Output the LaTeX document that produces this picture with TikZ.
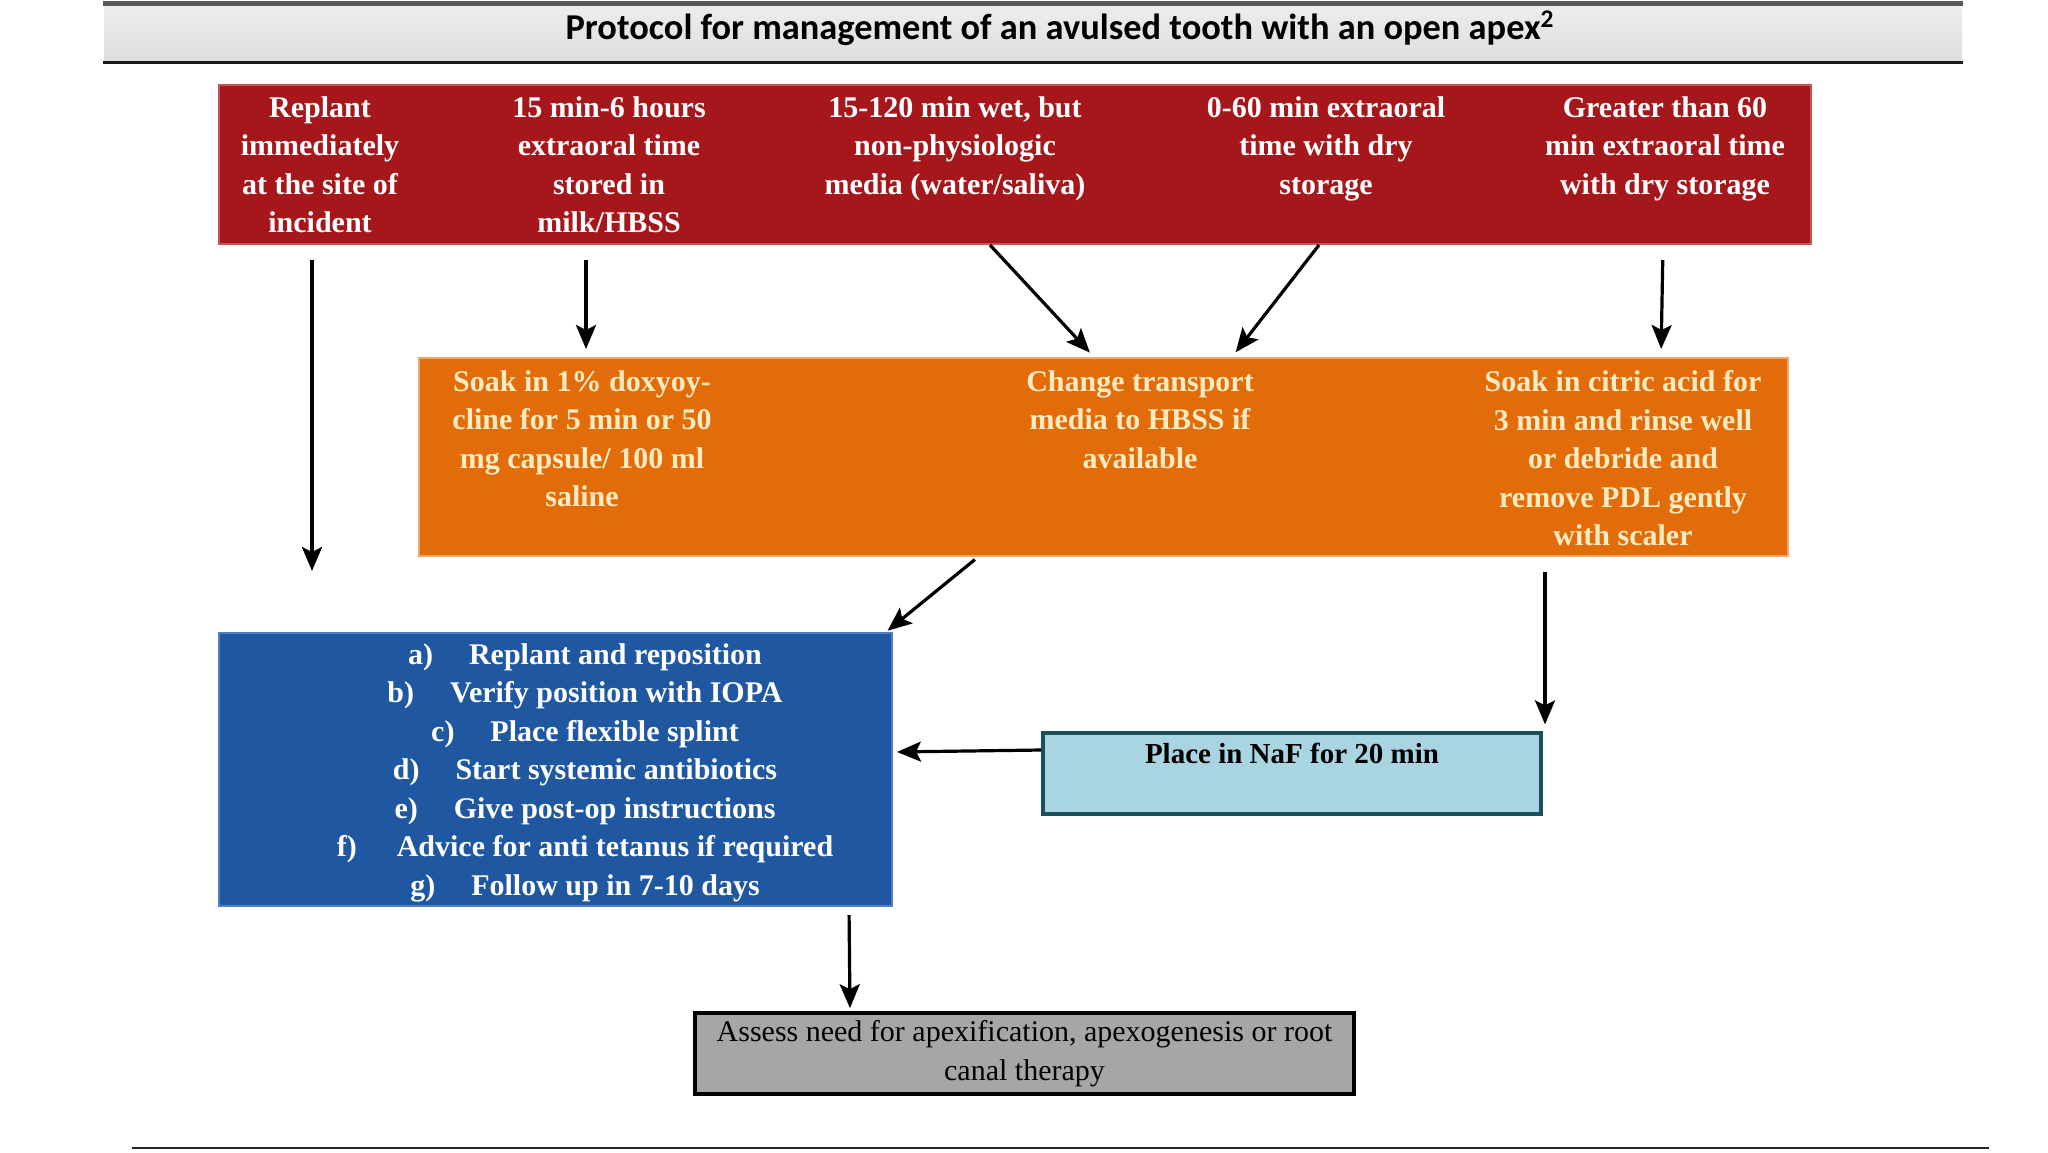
\documentclass[tikz,border=0pt]{standalone}
\usepackage{fontspec}
\setmainfont{Liberation Serif}
\newfontfamily\titlefont{Carlito}
\usetikzlibrary{arrows.meta, positioning}

\definecolor{incred}{HTML}{A6171C}
\definecolor{incredline}{HTML}{C9555A}
\definecolor{soakorange}{HTML}{E36C0A}
\definecolor{soakline}{HTML}{F0A766}
\definecolor{cream}{HTML}{FDEBC2}
\definecolor{replblue}{HTML}{1F58A0}
\definecolor{replline}{HTML}{4F80C4}
\definecolor{naffill}{HTML}{A9D4E1}
\definecolor{nafline}{HTML}{1B4F5C}
\definecolor{assessgray}{HTML}{A6A6A6}

\begin{document}
\begin{tikzpicture}[x=1pt, y=-1pt,
    box/.style={draw, line width=1pt, inner sep=0pt},
    txt/.style={align=center, inner sep=0pt, anchor=north,
                font=\bfseries\fontsize{15}{19.25}\selectfont},
    arr/.style={-{Stealth[length=12pt, width=10pt, inset=2.5pt]}, line width=1.6pt}
]
\useasboundingbox[fill=white] (0,0) rectangle (1024,576);

% Title bar
\node[box, draw=none, top color=gray!14, bottom color=gray!26,
      minimum width=929pt, minimum height=28.5pt] (bar) at (516.5,16.25) {};
\draw[line width=2.5pt, black!65] (bar.north west) -- (bar.north east);
\draw[line width=1.5pt, black!90] (bar.south west) -- (bar.south east);
\node[inner sep=0pt, font=\titlefont\bfseries\fontsize{18.2}{20}\selectfont] (title) at (530,14)
    {Protocol for management of an avulsed tooth with an open apex\textsuperscript{2}};

% Boxes
\node[box, fill=incred, draw=incredline, minimum width=796pt, minimum height=79.5pt] (red) at (507.5,82.25) {};
\node[box, fill=soakorange, draw=soakline, minimum width=684.5pt, minimum height=99pt] (orange) at (551.75,228.5) {};
\node[box, fill=replblue, draw=replline, minimum width=336.5pt, minimum height=136.5pt] (blue) at (277.75,384.75) {};
\node[box, fill=naffill, draw=nafline, line width=1.6pt, minimum width=249pt, minimum height=40.5pt] (naf) at (646,386.75) {};
\node[box, fill=assessgray, draw=black, line width=1.8pt, minimum width=329.5pt, minimum height=40.5pt] (assess) at (512.25,526.75) {};

% Time out of the mouth
\node[txt, white] (imm) at (160,48) {Replant\\immediately\\at the site of\\incident};
\node[txt, white] (milk) at (304.5,48) {15 min-6 hours\\extraoral time\\stored in\\milk/HBSS};
\node[txt, white] (wet) at (477.5,48) {15-120 min wet, but\\non-physiologic\\media (water/saliva)};
\node[txt, white] (dry) at (663,48) {0-60 min extraoral\\time with dry\\storage};
\node[txt, white] (drylong) at (832.5,48) {Greater than 60\\min extraoral time\\with dry storage};

% Soaking
\node[txt, cream] (doxy) at (291,185) {Soak in 1\% doxyoy-\\cline for 5 min or 50\\mg capsule/ 100 ml\\saline};
\node[txt, cream] (hbss) at (570,185) {Change transport\\media to HBSS if\\available};
\node[txt, cream] (citric) at (811.5,185) {Soak in citric acid for\\3 min and rinse well\\or debride and\\remove PDL gently\\with scaler};

% Replantation steps
\node[txt, white] (steps) at (292.5,321.5) {%
    a)\hspace{18pt}Replant and reposition\\
    b)\hspace{18pt}Verify position with IOPA\\
    c)\hspace{18pt}Place flexible splint\\
    d)\hspace{18pt}Start systemic antibiotics\\
    e)\hspace{18pt}Give post-op instructions\\
    f)\hspace{20pt}Advice for anti tetanus if required\\
    g)\hspace{18pt}Follow up in 7-10 days};

\node[txt, black, font=\bfseries\fontsize{14.5}{19}\selectfont, below=5.5pt of naf.north] (naftext) {Place in NaF for 20 min};
\node[txt, black, font=\fontsize{15}{19.5}\selectfont, below=4.5pt of assess.north] (assesstext)
    {Assess need for apexification, apexogenesis or root\\canal therapy};

% Arrows
\coordinate (immend) at (156,285.5);
\draw[arr, shorten <=7.5pt] (red.south -| immend) -- (immend);
\draw[arr, shorten <=7.5pt, shorten >=4pt] (red.south -| 293,0) -- (orange.north -| 293,0);
\draw[arr, shorten >=3pt] (red.south -| 495,0) -- (orange.north -| 547,0);
\draw[arr, shorten >=3pt] (red.south -| 659.5,0) -- (orange.north -| 616,0);
\draw[arr, shorten <=7.5pt, shorten >=4pt] (red.south -| 831.5,0) -- (orange.north -| 830.5,0);
\draw[arr, shorten <=2pt, shorten >=1pt] (orange.south -| 489,0) -- ([xshift=-3.5pt]blue.north east);
\draw[arr, shorten <=7.5pt, shorten >=3.5pt] (orange.south -| 772.5,0) -- (naf.north -| 772.5,0);
\draw[arr, shorten >=2pt] (naf.west |- 0,375) -- (blue.east |- 0,376);
\draw[arr, shorten <=4pt, shorten >=1.5pt] (blue.south -| 424.5,0) -- (assess.north -| 425,0);

% Bottom rule
\draw[line width=1.2pt, black!85] (66,574) -- (994.5,574);
\end{tikzpicture}
\end{document}
